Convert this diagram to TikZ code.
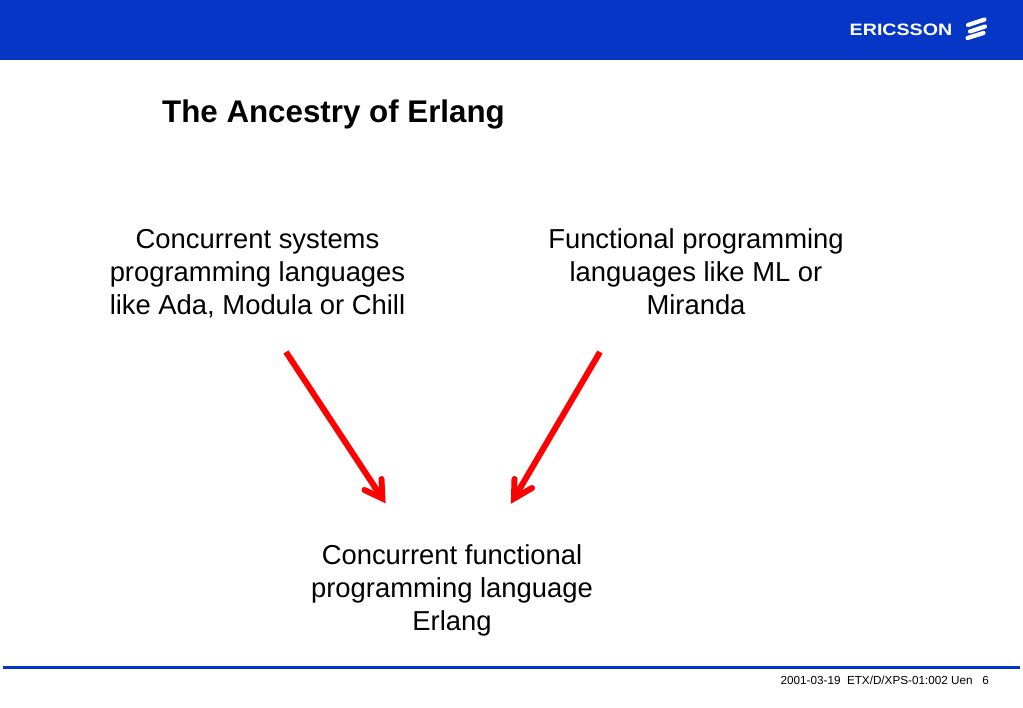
\documentclass[tikz,border=0pt]{standalone}
\usepackage{fontspec}
\setmainfont{Liberation Sans}
\definecolor{ericblue}{HTML}{0636C6}
\definecolor{arrowred}{HTML}{FF0000}
\tikzset{
  body/.style={align=center,font=\fontsize{27.4}{33}\selectfont,text=black,inner sep=0pt,anchor=center},
  redshaft/.style={draw=arrowred,line width=6pt},
  redhead/.style={draw=arrowred,line width=6pt,line cap=round,line join=miter,miter limit=10},
  logobar/.style={draw=white,line width=4.2pt,line cap=round},
}
\begin{document}
\begin{tikzpicture}[x=1pt,y=-1pt]
\useasboundingbox (0,0) rectangle (1023,708);
\fill[ericblue] (0,0) rectangle (1023,60);
\node[inner sep=0pt,text=white,font=\fontsize{16.5}{16}\bfseries\selectfont] (logo) at (901,30) {\scalebox{1.19}[1]{ERICSSON}};
\coordinate (b1a) at (968,25); \coordinate (b1b) at (984.5,19.5);
\coordinate (b2a) at (970,31.5); \coordinate (b2b) at (985,26.5);
\coordinate (b3a) at (967.5,38); \coordinate (b3b) at (983.5,33);
\draw[logobar] (b1a) -- (b1b);
\draw[logobar] (b2a) -- (b2b);
\draw[logobar] (b3a) -- (b3b);
\node[inner sep=0pt,anchor=west,font=\fontsize{31.3}{36}\bfseries\selectfont] (title) at (162,114) {The Ancestry of Erlang};
\node[body] (conc) at (257.5,273.5) {Concurrent systems\\programming languages\\like Ada, Modula or Chill};
\node[body] (func) at (696,271.5) {Functional programming\\languages like ML or\\Miranda};
\node[body] (erl) at (452,590.5) {Concurrent functional\\programming language\\Erlang};
\coordinate (a1s) at (286,352); \coordinate (a1e) at (382.4,498.5);
\coordinate (a1p) at (381.5,479); \coordinate (a1q) at (364.5,490);
\coordinate (a2s) at (600,352); \coordinate (a2e) at (514,498.5);
\coordinate (a2p) at (514.5,479); \coordinate (a2q) at (532,488);
\draw[redshaft] (a1s) -- (a1e);
\draw[redhead] (a1p) -- (a1e) -- (a1q);
\draw[redshaft] (a2s) -- (a2e);
\draw[redhead] (a2p) -- (a2e) -- (a2q);
\coordinate (r1) at (3,667); \coordinate (r2) at (1020,667);
\draw[ericblue,line width=3pt] (r1) -- (r2);
\node[inner sep=0pt,anchor=east,font=\fontsize{11.7}{14}\selectfont] (foot) at (989,680) {2001-03-19\ \ ETX/D/XPS-01:002 Uen\ \ \ 6};
\end{tikzpicture}
\end{document}
